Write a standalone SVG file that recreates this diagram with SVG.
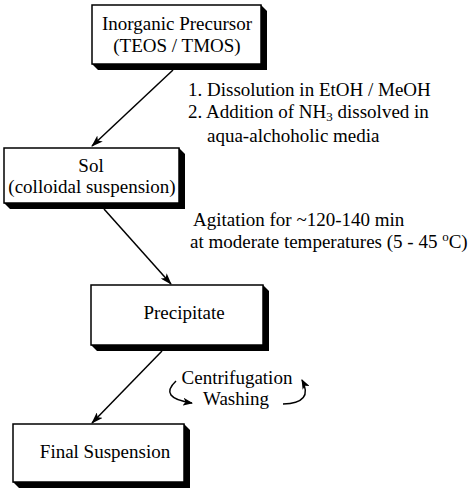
<svg xmlns="http://www.w3.org/2000/svg" width="474" height="494" viewBox="0 0 474 494">
<style>
  text { font-family: "Liberation Serif", "Times New Roman", serif; font-size: 19px; fill: #000; }
  .box { fill: #fff; stroke: #000; stroke-width: 1.5; }
  .shadow { fill: #000; }
  .conn { stroke: #000; stroke-width: 1.5; fill: none; }
  .mid { text-anchor: middle; }
</style>
<defs>
  <marker id="ah" viewBox="0 0 12 8" refX="11" refY="4" markerWidth="12" markerHeight="8" markerUnits="userSpaceOnUse" orient="auto">
    <path d="M0,0 L12,4 L0,8 L3,4 Z" fill="#000"/>
  </marker>
  <marker id="ahs" viewBox="0 0 10 8" refX="9" refY="4" markerWidth="10" markerHeight="8" markerUnits="userSpaceOnUse" orient="auto">
    <path d="M0,0 L10,4 L0,8 L2.5,4 Z" fill="#000"/>
  </marker>
</defs>

<g id="node-precursor">
  <polygon class="shadow" points="261,5 267,11 267,70 98,70 92,64"/>
  <rect class="box" x="92" y="5" width="169" height="59"/>
  <text class="mid" x="177" y="30">Inorganic Precursor</text>
  <text class="mid" x="177" y="52">(TEOS / TMOS)</text>
</g>

<g id="node-sol">
  <polygon class="shadow" points="179,148 185,154 185,209 10,209 4,203"/>
  <rect class="box" x="4" y="148" width="175" height="55"/>
  <text class="mid" x="91" y="172">Sol</text>
  <text class="mid" x="92" y="193">(colloidal suspension)</text>
</g>

<g id="node-precipitate">
  <polygon class="shadow" points="263,285 269,291 269,351 97,351 91,345"/>
  <rect class="box" x="91" y="285" width="172" height="60"/>
  <text class="mid" x="184" y="319">Precipitate</text>
</g>

<g id="node-final">
  <polygon class="shadow" points="184,424 190,430 190,488 19,488 13,482"/>
  <rect class="box" x="13" y="424" width="171" height="58"/>
  <text class="mid" x="105" y="458">Final Suspension</text>
</g>

<g id="connectors">
  <line class="conn" x1="173" y1="70" x2="92" y2="146" marker-end="url(#ah)"/>
  <line class="conn" x1="104" y1="209" x2="171" y2="284" marker-end="url(#ah)"/>
  <line class="conn" x1="162" y1="351" x2="92" y2="423" marker-end="url(#ah)"/>
  <path class="conn" d="M176,381 Q158,398 192,403" marker-end="url(#ahs)"/>
  <path class="conn" d="M283,404 Q314,403 302,380" marker-end="url(#ahs)"/>
</g>

<g id="labels">
  <text x="188" y="96">1. Dissolution in EtOH / MeOH</text>
  <text x="188" y="118">2. Addition of NH<tspan font-size="13" baseline-shift="-3">3</tspan> dissolved in</text>
  <text x="207" y="142">aqua-alchoholic media</text>
  <text x="193" y="226">Agitation for ~120-140 min</text>
  <text x="190" y="248">at moderate temperatures (5 - 45 <tspan font-size="13" baseline-shift="7">o</tspan>C)</text>
  <text class="mid" x="237" y="384">Centrifugation</text>
  <text class="mid" x="236" y="405">Washing</text>
</g>
</svg>
